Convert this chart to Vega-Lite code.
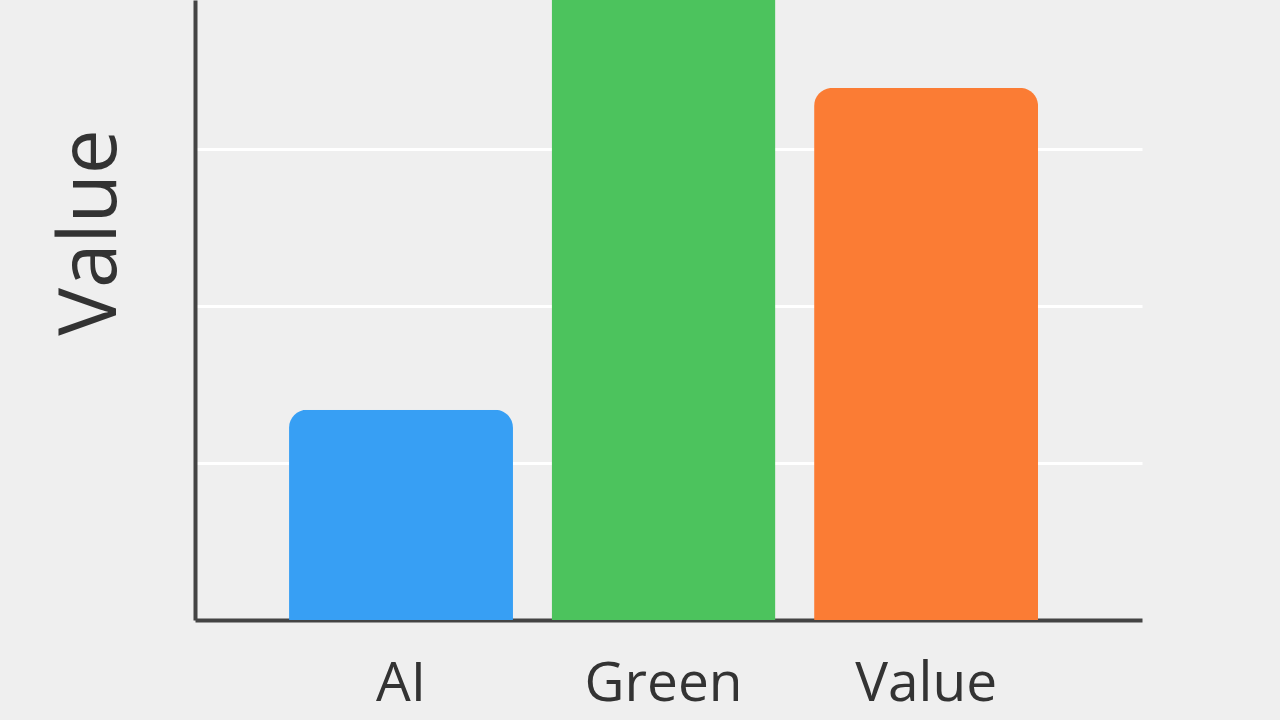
{
  "$schema": "https://vega.github.io/schema/vega-lite/v6.json",
  "autosize": {"type": "none"},
  "padding": {"left": 195, "top": 0, "right": 138, "bottom": 100},
  "width": 947,
  "height": 620,
  "background": "#efefef",
  "config": {
    "view": {"stroke": null},
    "font": "Open Sans"
  },
  "data": {
    "values": [
      {"category": "AI", "value": 1.34},
      {"category": "Green", "value": 4.4},
      {"category": "Value", "value": 3.39}
    ]
  },
  "mark": {
    "type": "bar",
    "cornerRadiusTopLeft": 18,
    "cornerRadiusTopRight": 18
  },
  "encoding": {
    "x": {
      "field": "category",
      "type": "nominal",
      "sort": null,
      "scale": {"paddingInner": 0.147, "paddingOuter": 0.377, "align": 0.475},
      "axis": {
        "title": null,
        "labelAngle": 0,
        "labelFontSize": 55,
        "labelColor": "#333333",
        "labelBaseline": "alphabetic",
        "labelPadding": 80,
        "ticks": false,
        "tickSize": 0,
        "domainColor": "#444444",
        "domainWidth": 4,
        "grid": false
      }
    },
    "y": {
      "field": "value",
      "type": "quantitative",
      "scale": {"domain": [0, 3.95], "nice": false},
      "axis": {
        "title": "Value",
        "titleFontSize": 80,
        "titleFontWeight": "normal",
        "titleColor": "#333333",
        "titleAngle": -90,
        "titleBaseline": "alphabetic",
        "titleAlign": "center",
        "titleX": -80,
        "titleY": 232,
        "labels": false,
        "ticks": false,
        "values": [1, 2, 3],
        "grid": true,
        "gridColor": "#ffffff",
        "gridWidth": 3,
        "domainColor": "#444444",
        "domainWidth": 4
      }
    },
    "color": {
      "field": "category",
      "type": "nominal",
      "scale": {"domain": ["AI", "Green", "Value"], "range": ["#379ff4", "#4cc35d", "#fb7c34"]},
      "legend": null
    }
  }
}
